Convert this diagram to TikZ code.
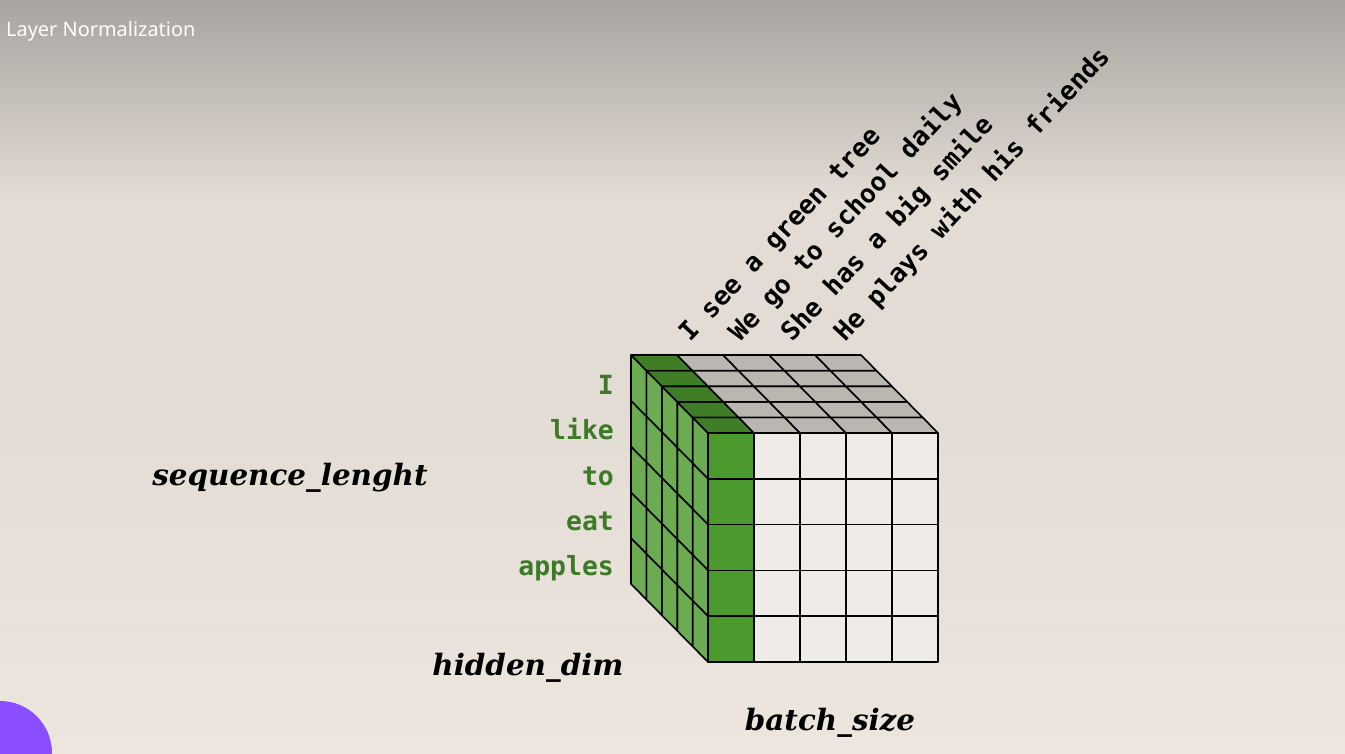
\documentclass[tikz,border=0pt]{standalone}
\usepackage{fontspec}
\setmainfont{DejaVu Serif}
\newfontfamily\monof{DejaVu Sans Mono}
\newfontfamily\titlef{Noto Sans}
\begin{document}
\begin{tikzpicture}[x=1bp,y=-1bp,
  cell/.style={draw=black,line width=1.6bp,line join=round},
  sent/.style={font=\monof\bfseries\fontsize{26}{26}\selectfont,anchor=base west,rotate=47,inner sep=0},
  word/.style={font=\monof\bfseries\fontsize{26.5}{26.5}\selectfont,text=wordgreen,anchor=base east,inner sep=0},
  axis/.style={font=\bfseries\itshape\fontsize{29.5}{29.5}\selectfont,inner sep=0}]
\definecolor{bgtop}{HTML}{A8A49F}
\definecolor{bgmid}{HTML}{E2DCD4}
\definecolor{bgbot}{HTML}{ECE6DF}
\definecolor{frontg}{HTML}{4C9A2E}
\definecolor{leftg}{HTML}{6BAB52}
\definecolor{topg}{HTML}{3F7E27}
\definecolor{topgrey}{HTML}{BAB6B0}
\definecolor{frontw}{HTML}{EFEBE6}
\definecolor{wordgreen}{HTML}{3D7A27}
\definecolor{purp}{HTML}{8A4DFF}
\useasboundingbox (0,0) rectangle (1345,753);
\shade[top color=bgtop,bottom color=bgmid] (0,0) rectangle (1345,200);
\fill[bgmid] (0,199) rectangle (1345,400);
\shade[top color=bgmid,bottom color=bgbot] (0,399) rectangle (1345,753);
\fill[purp] (0,753) circle (52);
\node[anchor=base west,text=white,font=\titlef\fontsize{20}{20}\selectfont,inner sep=0] (title) at (6,37) {Layer Normalization};
% cube
\def\X{708}\def\Y{433}\def\W{46}\def\H{45.8}\def\dx{15.4}\def\dy{15.6}
\foreach \k in {0,...,4}{\foreach \j in {0,...,4}{
 \filldraw[cell,fill=leftg] ({\X-\dx*\k},{\Y+\H*\j-\dy*\k}) -- ({\X-\dx*(\k+1)},{\Y+\H*\j-\dy*(\k+1)}) -- ({\X-\dx*(\k+1)},{\Y+\H*(\j+1)-\dy*(\k+1)}) -- ({\X-\dx*\k},{\Y+\H*(\j+1)-\dy*\k}) -- cycle;}}
\foreach \k in {0,...,4}{\foreach \i in {0,...,4}{
 \pgfmathsetmacro{\c}{\i==0?1:0}
 \ifdim\c pt>0.5pt\def\fc{topg}\else\def\fc{topgrey}\fi
 \filldraw[cell,fill=\fc] ({\X+\W*\i-\dx*\k},{\Y-\dy*\k}) -- ({\X+\W*(\i+1)-\dx*\k},{\Y-\dy*\k}) -- ({\X+\W*(\i+1)-\dx*(\k+1)},{\Y-\dy*(\k+1)}) -- ({\X+\W*\i-\dx*(\k+1)},{\Y-\dy*(\k+1)}) -- cycle;}}
\foreach \i in {0,...,4}{\foreach \j in {0,...,4}{
 \pgfmathsetmacro{\c}{\i==0?1:0}
 \ifdim\c pt>0.5pt\def\fc{frontg}\else\def\fc{frontw}\fi
 \filldraw[cell,fill=\fc] ({\X+\W*\i},{\Y+\H*\j}) rectangle ({\X+\W*(\i+1)},{\Y+\H*(\j+1)});}}
% sentences
\node[sent] (s1) at (690,343) {I see a green tree};
\node[sent] (s2) at (740,343) {We go to school daily};
\node[sent] (s3) at (792,343) {She has a big smile};
\node[sent] (s4) at (845,343) {He plays with his friends};
% words
\node[word] (w1) at (614,394) {I};
\node[word] (w2) at (614,439) {like};
\node[word] (w3) at (614,485) {to};
\node[word] (w4) at (614,530) {eat};
\node[word] (w5) at (614,575) {apples};
% axis labels
\node[axis] (seq) at (290,478) {sequence\_lenght};
\node[axis] (hid) at (528,668) {hidden\_dim};
\node[axis] (bat) at (830,723) {batch\_size};
\end{tikzpicture}
\end{document}
